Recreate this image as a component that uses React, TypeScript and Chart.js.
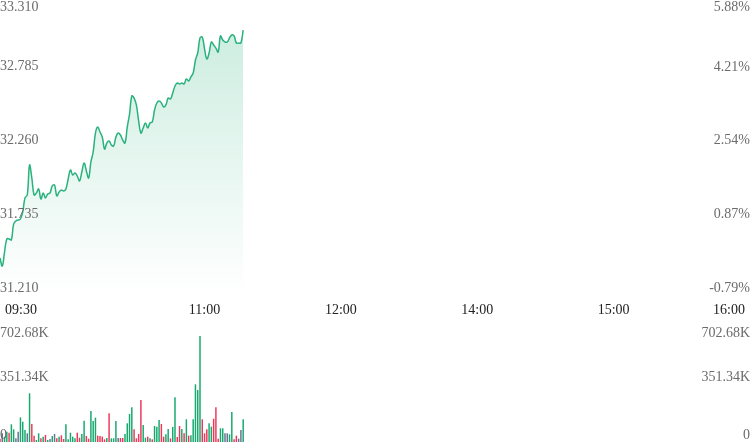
import { useRef, useEffect } from 'react'
import { Chart, registerables } from 'chart.js'
import type { Plugin } from 'chart.js'

Chart.register(...registerables)

// x axis is in minutes since the open; ticks are where the session labels sit
const TIME_TICKS = [0, 90, 150, 210, 270, 330]
const TIME_LABELS = ['09:30', '11:00', '12:00', '14:00', '15:00', '16:00']

const PRICE_TICKS = [31.21, 31.735, 32.26, 32.785, 33.31]
const PCT_TICKS = [-0.79, 0.87, 2.54, 4.21, 5.88]
const VOLUME_TICKS = [0, 351.34, 702.68] // thousands

const PRICES = [
  31.473, 31.416, 31.516, 31.609, 31.609, 31.602, 31.715, 31.737, 31.744, 31.751,
  31.801, 31.901, 31.922, 32.135, 32.043, 31.922, 31.936, 31.965, 31.893, 31.936,
  31.901, 31.929, 31.936, 31.986, 31.993, 31.915, 31.943, 31.958, 31.950, 31.965,
  32.036, 32.100, 32.064, 32.079, 32.057, 32.022, 32.086, 32.150, 32.093, 32.043,
  32.157, 32.228, 32.363, 32.406, 32.370, 32.335, 32.249, 32.292, 32.306, 32.278,
  32.271, 32.335, 32.363, 32.349, 32.313, 32.292, 32.406, 32.498, 32.627, 32.612,
  32.563, 32.449, 32.363, 32.399, 32.434, 32.399, 32.434, 32.442, 32.527, 32.577,
  32.591, 32.577, 32.548, 32.563, 32.612, 32.605, 32.648, 32.698, 32.719, 32.712,
  32.719, 32.712, 32.748, 32.733, 32.762, 32.790, 32.883, 32.933, 33.040, 33.047,
  32.961, 32.890, 32.933, 33.011, 32.990, 32.968, 32.940, 33.054, 33.025, 33.011,
  33.011, 33.040, 33.061, 33.054, 33.004, 33.004, 33.004, 33.096,
]

// volume in thousands
const VOLUMES = [
  20, 52.5, 32.3, 62.6, 56.5, 107, 76.7, 22.2, 62.6, 149.4,
  123.2, 72.7, 52.5, 294.8, 109, 38.4, 12.1, 52.5, 22.2, 32.3,
  42.4, 12.1, 18.2, 36.3, 48.5, 22.2, 32.3, 40.4, 18.2, 107,
  16.2, 56.5, 32.3, 22.2, 56.5, 26.2, 48.5, 129.2, 36.3, 20.2,
  187.8, 127.2, 147.4, 38.4, 36.3, 32.3, 16.2, 24.2, 173.7, 22.2,
  22.2, 127.2, 24.2, 24.2, 24.2, 48.5, 113.1, 169.6, 210, 76.7,
  22.2, 48.5, 254.4, 103, 26.2, 32.3, 22.2, 16.2, 96.9, 92.9,
  133.3, 109, 32.3, 46.4, 78.7, 22.2, 90.9, 270.6, 30.3, 96.9,
  78.7, 52.5, 137.3, 38.4, 40.4, 137.3, 349.3, 315, 642.1, 137.3,
  52.5, 76.7, 113.1, 92.9, 141.3, 210, 20.2, 82.8, 82.8, 52.5,
  52.5, 46.4, 181.7, 16.2, 38.4, 20.2, 72.7, 137.3,
]

// u = up, d = down, n = unchanged
const VOLUME_DIR = [
  'd', 'n', 'u', 'u', 'd', 'u', 'u', 'n', 'n', 'u',
  'u', 'u', 'n', 'u', 'd', 'd', 'u', 'u', 'd', 'u',
  'd', 'u', 'n', 'u', 'n', 'd', 'u', 'd', 'd', 'u',
  'u', 'u', 'u', 'u', 'd', 'd', 'u', 'u', 'd', 'd',
  'u', 'u', 'u', 'd', 'd', 'd', 'd', 'u', 'd', 'u',
  'u', 'u', 'n', 'd', 'd', 'u', 'u', 'u', 'u', 'd',
  'd', 'd', 'd', 'u', 'u', 'd', 'u', 'd', 'u', 'u',
  'u', 'd', 'd', 'u', 'u', 'd', 'u', 'u', 'd', 'd',
  'u', 'd', 'u', 'd', 'u', 'u', 'u', 'u', 'u', 'd',
  'd', 'd', 'u', 'u', 'd', 'd', 'd', 'u', 'u', 'n',
  'n', 'u', 'u', 'd', 'd', 'n', 'n', 'u',
]

const LINE_COLOR = '#2ab27e'
const DIR_COLORS: Record<string, string> = {
  u: 'rgb(22,168,110)',
  d: 'rgb(236,56,88)',
  n: 'rgb(104,114,144)',
}
const FONT = '14px "Liberation Serif", serif'
const AXIS_COLOR = '#6b6b6b'
const TIME_COLOR = '#222'

const priceLabels: Plugin<'line'> = {
  id: 'priceLabels',
  afterDraw(chart) {
    const { ctx, chartArea, scales } = chart
    const last = PRICE_TICKS.length - 1
    ctx.save()
    ctx.font = FONT
    ctx.fillStyle = AXIS_COLOR
    PRICE_TICKS.forEach((v, i) => {
      ctx.textBaseline = i === last ? 'top' : 'bottom'
      ctx.textAlign = 'left'
      ctx.fillText(v.toFixed(3), chartArea.left, scales.y.getPixelForValue(v))
    })
    PCT_TICKS.forEach((v, i) => {
      ctx.textBaseline = i === last ? 'top' : 'bottom'
      ctx.textAlign = 'right'
      ctx.fillText(v.toFixed(2) + '%', chartArea.right, scales.pct.getPixelForValue(v))
    })
    ctx.fillStyle = TIME_COLOR
    ctx.textBaseline = 'middle'
    TIME_TICKS.forEach((t, i) => {
      const px = scales.x.getPixelForValue(t)
      if (i === 0) { ctx.textAlign = 'left'; ctx.fillText(TIME_LABELS[i], px + 5, 310) }
      else if (i === TIME_TICKS.length - 1) { ctx.textAlign = 'right'; ctx.fillText(TIME_LABELS[i], px - 5, 310) }
      else { ctx.textAlign = 'center'; ctx.fillText(TIME_LABELS[i], px, 310) }
    })
    ctx.restore()
  },
}

const volumeLabels: Plugin<'bar'> = {
  id: 'volumeLabels',
  afterDraw(chart) {
    const { ctx, chartArea, scales } = chart
    const last = VOLUME_TICKS.length - 1
    ctx.save()
    ctx.font = FONT
    ctx.fillStyle = AXIS_COLOR
    VOLUME_TICKS.forEach((v, i) => {
      const text = v === 0 ? '0' : v.toFixed(2) + 'K'
      const py = scales.y.getPixelForValue(v)
      ctx.textBaseline = i === last ? 'top' : 'bottom'
      ctx.textAlign = 'left'
      ctx.fillText(text, chartArea.left, py)
      ctx.textAlign = 'right'
      ctx.fillText(text, chartArea.right, py)
    })
    ctx.restore()
  },
}

function PriceChart() {
  const canvasRef = useRef<HTMLCanvasElement>(null)

  useEffect(() => {
    if (!canvasRef.current) return
    const chart = new Chart(canvasRef.current, {
      type: 'line',
      data: {
        datasets: [{
          data: PRICES.map((p, i) => ({ x: i, y: p })),
          borderColor: LINE_COLOR,
          borderWidth: 1.5,
          pointRadius: 0,
          tension: 0.4,
          fill: 'start',
          backgroundColor: (c) => {
            const area = c.chart.chartArea
            if (!area) return 'rgba(42,178,126,0.2)'
            const g = c.chart.ctx.createLinearGradient(0, area.top, 0, area.bottom)
            g.addColorStop(0, 'rgba(42,178,126,0.26)')
            g.addColorStop(1, 'rgba(42,178,126,0)')
            return g
          },
        }],
      },
      options: {
        responsive: false,
        animation: false,
        layout: { padding: { left: 0, right: 0, top: 0, bottom: 31 } },
        scales: {
          x: { type: 'linear', min: TIME_TICKS[0], max: TIME_TICKS[TIME_TICKS.length - 1], display: false },
          y: { min: PRICE_TICKS[0], max: PRICE_TICKS[PRICE_TICKS.length - 1], display: false },
          pct: { position: 'right', min: PCT_TICKS[0], max: PCT_TICKS[PCT_TICKS.length - 1], display: false },
        },
        plugins: { legend: { display: false }, tooltip: { enabled: false } },
      },
      plugins: [priceLabels],
    })
    return () => chart.destroy()
  }, [])

  return <canvas ref={canvasRef} width={750} height={326} style={{ display: 'block' }} />
}

function VolumeChart() {
  const canvasRef = useRef<HTMLCanvasElement>(null)

  useEffect(() => {
    if (!canvasRef.current) return
    const chart = new Chart(canvasRef.current, {
      type: 'bar',
      data: {
        datasets: [{
          data: VOLUMES.map((v, i) => ({ x: i, y: v })),
          backgroundColor: VOLUME_DIR.map((d) => DIR_COLORS[d]),
          barPercentage: 0.65,
          categoryPercentage: 1,
        }],
      },
      options: {
        responsive: false,
        animation: false,
        layout: { padding: 0 },
        scales: {
          x: { type: 'linear', offset: false, min: TIME_TICKS[0], max: TIME_TICKS[TIME_TICKS.length - 1], display: false },
          y: { min: 0, max: VOLUME_TICKS[VOLUME_TICKS.length - 1], display: false },
        },
        plugins: { legend: { display: false }, tooltip: { enabled: false } },
      },
      plugins: [volumeLabels],
    })
    return () => chart.destroy()
  }, [])

  return <canvas ref={canvasRef} width={750} height={116} style={{ display: 'block' }} />
}

export default function App() {
  return (
    <div style={{ width: 750, height: 442, background: '#fff' }}>
      <style>{'body{margin:0}'}</style>
      <PriceChart />
      <VolumeChart />
    </div>
  )
}
